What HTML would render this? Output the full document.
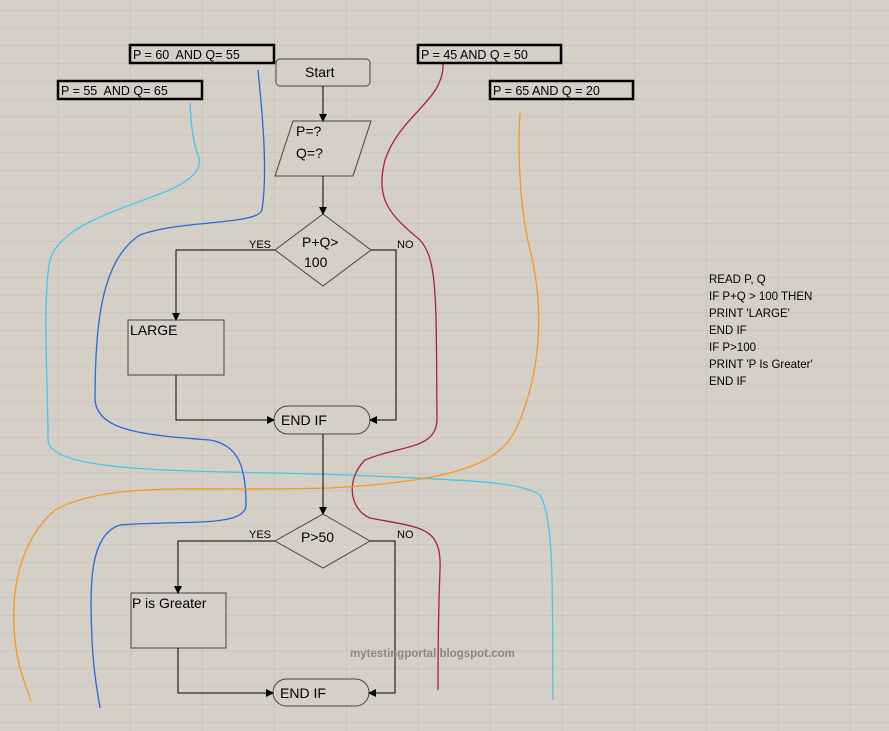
<!DOCTYPE html>
<html><head><meta charset="utf-8"><style>
html,body{margin:0;padding:0;background:#d4d0c8;}
svg{display:block;font-family:"Liberation Sans",sans-serif;}
</style></head><body>
<svg width="889" height="731" viewBox="0 0 889 731" xmlns="http://www.w3.org/2000/svg">
<defs>
<pattern id="g" x="0" y="0" width="72" height="17.8" patternUnits="userSpaceOnUse" patternTransform="translate(58.5,10)">
<path d="M0 0H72M0 0V17.8" stroke="#c0bcb4" stroke-width="1" fill="none"/>
</pattern>
<marker id="a" markerWidth="8" markerHeight="8" refX="7" refY="4" orient="auto" markerUnits="userSpaceOnUse"><path d="M0 0L8 4L0 8z" fill="#000"/></marker>
</defs>
<rect width="889" height="731" fill="#d4d0c8"/>
<rect width="889" height="731" fill="url(#g)"/>

<g fill="none" stroke-width="1.3">
<path stroke="#4fc3e8" d="M190 103 C191 120 192 140 198 155 C204 170 190 180 170 190 C120 210 60 225 50 260 C42 300 48 380 48 440 C50 475 200 470 350 475 C450 480 520 480 540 495 C555 520 552 600 553 700"/>
<path stroke="#2a66d8" d="M258 70 C262 110 268 170 262 210 C258 225 180 220 140 235 C100 260 95 330 95 400 C98 430 140 435 210 440 C240 445 246 470 246 505 C246 528 180 520 120 525 C88 535 90 590 92 640 C94 680 99 700 100 708"/>
<path stroke="#a8203c" d="M443 63 C445 100 400 115 385 160 C375 200 390 215 420 240 C438 260 436 300 437 420 C436 450 400 445 365 460 C345 480 350 510 370 518 C420 528 442 525 440 570 C438 620 438 660 438 690"/>
<path stroke="#f39a1e" d="M520 113 C518 140 518 200 530 250 C545 310 540 370 520 420 C505 460 470 480 330 488 C200 492 110 480 55 510 C20 540 10 590 15 640 C18 670 28 690 31 702"/>
</g>

<g stroke="#000" stroke-width="2.5" fill="none">
<rect x="130" y="45" width="144" height="18"/>
<rect x="58" y="81" width="144" height="18"/>
<rect x="418" y="45" width="143" height="18"/>
<rect x="490" y="81" width="143" height="18"/>
</g>
<g font-size="12.5" fill="#000">
<text x="133" y="59">P = 60&#160; AND Q= 55</text>
<text x="61" y="95">P = 55&#160; AND Q= 65</text>
<text x="421" y="59">P = 45 AND Q = 50</text>
<text x="493" y="95">P = 65 AND Q = 20</text>
</g>

<g stroke="#444" stroke-width="1" fill="none">
<rect x="276" y="59" width="94" height="27" rx="4" fill="#d4d0c8"/>
<polygon points="293,121 371,121 353,176 275,176" fill="#d4d0c8"/>
<polygon points="323,214 371,250 323,286 275,250" fill="#d4d0c8"/>
<rect x="128" y="320" width="96" height="55" fill="#d4d0c8"/>
<rect x="274" y="406" width="96" height="28" rx="14" fill="#d4d0c8"/>
<polygon points="323,514 370,541 323,568 275,541" fill="#d4d0c8"/>
<rect x="131" y="593" width="95" height="55" fill="#d4d0c8"/>
<rect x="273" y="679" width="96" height="27" rx="13.5" fill="#d4d0c8"/>
</g>
<g stroke="#000" stroke-width="1" fill="none">
<path d="M323 86V121" marker-end="url(#a)"/>
<path d="M323 176V214" marker-end="url(#a)"/>
<path d="M275 250H176V320" marker-end="url(#a)"/>
<path d="M371 250H396V420H370" marker-end="url(#a)"/>
<path d="M176 375V420H274" marker-end="url(#a)"/>
<path d="M323 434V514" marker-end="url(#a)"/>
<path d="M275 541H178V593" marker-end="url(#a)"/>
<path d="M370 541H395V693H369" marker-end="url(#a)"/>
<path d="M178 648V693H273" marker-end="url(#a)"/>
</g>
<g font-size="14" fill="#000">
<text x="305" y="77">Start</text>
<text x="296" y="136">P=?</text>
<text x="296" y="158">Q=?</text>
<text x="302" y="247">P+Q&gt;</text>
<text x="304" y="267">100</text>
<text x="130" y="335">LARGE</text>
<text x="281" y="425">END IF</text>
<text x="301" y="542">P&gt;50</text>
<text x="132" y="608">P is Greater</text>
<text x="280" y="698">END IF</text>
</g>
<g font-size="11" fill="#000">
<text x="249" y="248">YES</text>
<text x="397" y="248">NO</text>
<text x="249" y="538">YES</text>
<text x="397" y="538">NO</text>
</g>
<g font-size="11.5" fill="#000">
<text x="709" y="283">READ P, Q</text>
<text x="709" y="300">IF P+Q &gt; 100 THEN</text>
<text x="709" y="317">PRINT 'LARGE'</text>
<text x="709" y="334">END IF</text>
<text x="709" y="351">IF P&gt;100</text>
<text x="709" y="368">PRINT 'P Is Greater'</text>
<text x="709" y="385">END IF</text>
</g>
<text x="350" y="657" font-size="11.5" font-weight="bold" fill="#8a8782">mytestingportal.blogspot.com</text>
</svg>
</body></html>
